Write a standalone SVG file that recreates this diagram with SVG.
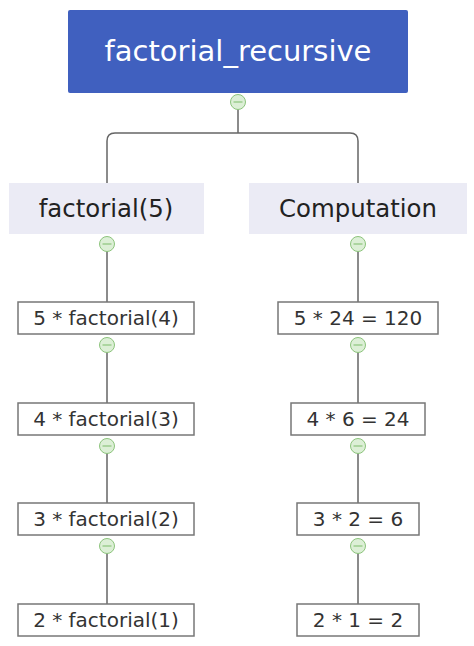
<svg xmlns="http://www.w3.org/2000/svg" width="474" height="646" viewBox="0 0 474 646">
<style>
text{font-family:"DejaVu Sans",sans-serif;text-anchor:middle}
.leaf{fill:#fff;stroke:#777;stroke-width:1.5}
.lt{font-size:20px;fill:#333}
.sub{fill:#ebebf5}
.st{font-size:24.4px;fill:#222}
.con{fill:none;stroke:#666;stroke-width:1.5}
.tog circle{fill:#dcefd6;stroke:#8cc47c;stroke-width:1}
.tog line{stroke:#8cc47c;stroke-width:1.2}
</style>
<defs>
<g id="tg" class="tog"><circle r="7.5"/><line x1="-4.5" y1="0" x2="4.5" y2="0"/></g>
</defs>
<g id="connectors">
<path class="con" d="M238 109V133H115Q107 133 107 141V183M238 133H350Q358 133 358 141V183"/>
<path class="con" d="M107 251V302M107 352V403M107 453V503M107 553V604"/>
<path class="con" d="M358 251V302M358 352V403M358 453V503M358 553V604"/>
</g>
<g id="root">
<rect x="68" y="10" width="340" height="83" rx="2" fill="#4060bf"/>
<text x="238" y="61" font-size="29" fill="#fff">factorial_recursive</text>
</g>
<g id="factorial5">
<rect class="sub" x="9" y="183" width="195" height="51"/>
<text class="st" x="106" y="217">factorial(5)</text>
</g>
<g id="computation">
<rect class="sub" x="249" y="183" width="218" height="51"/>
<text class="st" x="358" y="217">Computation</text>
</g>
<g id="f4"><rect class="leaf" x="18" y="302" width="176" height="32"/><text class="lt" x="106" y="325">5 * factorial(4)</text></g>
<g id="f3"><rect class="leaf" x="18" y="403" width="176" height="32"/><text class="lt" x="106" y="426">4 * factorial(3)</text></g>
<g id="f2"><rect class="leaf" x="18" y="503" width="176" height="32"/><text class="lt" x="106" y="526">3 * factorial(2)</text></g>
<g id="f1"><rect class="leaf" x="18" y="604" width="176" height="32"/><text class="lt" x="106" y="627">2 * factorial(1)</text></g>
<g id="c120"><rect class="leaf" x="278" y="302" width="160" height="32"/><text class="lt" x="358" y="325">5 * 24 = 120</text></g>
<g id="c24"><rect class="leaf" x="291" y="403" width="134" height="32"/><text class="lt" x="358" y="426">4 * 6 = 24</text></g>
<g id="c6"><rect class="leaf" x="297" y="503" width="122" height="32"/><text class="lt" x="358" y="526">3 * 2 = 6</text></g>
<g id="c2"><rect class="leaf" x="297" y="604" width="122" height="32"/><text class="lt" x="358" y="627">2 * 1 = 2</text></g>
<g id="toggles">
<use href="#tg" x="238" y="102"/>
<use href="#tg" x="107" y="244"/>
<use href="#tg" x="358" y="244"/>
<use href="#tg" x="107" y="345"/>
<use href="#tg" x="358" y="345"/>
<use href="#tg" x="107" y="446"/>
<use href="#tg" x="358" y="446"/>
<use href="#tg" x="107" y="546"/>
<use href="#tg" x="358" y="546"/>
</g>
</svg>
